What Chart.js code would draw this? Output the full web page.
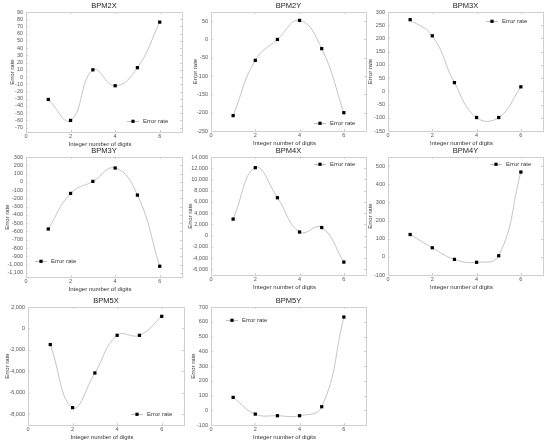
<!DOCTYPE html>
<html><head><meta charset="utf-8">
<script src="https://cdn.jsdelivr.net/npm/chart.js@4/dist/chart.umd.min.js"></script>
<style>
html,body{margin:0;padding:0;background:#fff;width:550px;height:446px;overflow:hidden;position:relative}
canvas{position:absolute}
</style></head><body>
<script>
// ---- data ----
const digits = [1, 2, 3, 4, 5, 6];
const xTickValues = [0, 2, 4, 6];
const titles = ['BPM2X', 'BPM2Y', 'BPM3X', 'BPM3Y', 'BPM4X', 'BPM4Y', 'BPM5X', 'BPM5Y'];
const bpm2x = [-31, -60, 10, -12, 13, 76];
const bpm2y = [-208, -57, 0, 52, -25, -200];
const bpm3x = [271, 210, 33, -99, -99, 17];
const bpm3y = [-570, -140, 5, 167, -160, -1020];
const bpm4x = [2950, 12100, 6750, 650, 1450, -4700];
const bpm4y = [123, 50, -14, -30, 6, 467];
const bpm5x = [-1500, -7380, -4150, -640, -640, 1130];
const bpm5y = [87, -26, -37, -37, 24, 632];
const seriesValues = [bpm2x, bpm2y, bpm3x, bpm3y, bpm4x, bpm4y, bpm5x, bpm5y];
const yMins = [-76, -250, -150, -1150, -7000, -100, -9000, -100];
const yMaxs = [90, 75, 300, 300, 14000, 550, 2000, 700];
const ySteps = [10, 50, 50, 100, 2000, 100, 2000, 100];
const seriesLabel = 'Error rate';
const xAxisTitle = 'Integer number of digits';
const yAxisTitle = 'Error rate';

// ---- layout (page pixel positions of plot areas, legend offsets) ----
const layouts = [
  {L: 26,  T: 12,  R: 182, B: 132, lx: 107, ly: 109, yt: 14},
  {L: 211, T: 12,  R: 366, B: 131, lx: 109, ly: 111, yt: 16},
  {L: 388, T: 12,  R: 543, B: 131, lx: 104, ly: 9,   yt: 18},
  {L: 26,  T: 157, R: 182, B: 277, lx: 15,  ly: 104, yt: 19},
  {L: 211, T: 157, R: 366, B: 275, lx: 109, ly: 7,   yt: 21},
  {L: 388, T: 157, R: 543, B: 275, lx: 108, ly: 7,   yt: 18},
  {L: 28,  T: 307, R: 184, B: 425, lx: 109, ly: 107, yt: 21},
  {L: 211, T: 307, R: 366, B: 425, lx: 21,  ly: 13,  yt: 18}
];
const FONT = "'Liberation Sans', Arial, sans-serif";
const AXW = 30, PADT = 12, PADR = 6, AXH = 18;

const decor = {
  id: 'decor',
  beforeDatasetsDraw(chart, args, o) {
    const {ctx, chartArea: a} = chart;
    ctx.save();
    ctx.strokeStyle = '#cfcfcf';
    ctx.lineWidth = 1;
    ctx.strokeRect(Math.round(a.left) + 0.5, Math.round(a.top) + 0.5, Math.round(a.right - a.left), Math.round(a.bottom - a.top));
    const ys = chart.scales.y, xs = chart.scales.x;
    ctx.beginPath();
    ys.ticks.forEach(t => {
      const p = Math.round(ys.getPixelForValue(t.value)) + 0.5;
      ctx.moveTo(a.left, p); ctx.lineTo(a.left + 2, p);
      ctx.moveTo(a.right, p); ctx.lineTo(a.right - 2, p);
    });
    xs.ticks.forEach(t => {
      const p = Math.round(xs.getPixelForValue(t.value)) + 0.5;
      ctx.moveTo(p, a.bottom); ctx.lineTo(p, a.bottom - 2);
      ctx.moveTo(p, a.top); ctx.lineTo(p, a.top + 2);
    });
    ctx.stroke();
    ctx.restore();
  },
  afterDraw(chart, args, o) {
    const {ctx, chartArea: a} = chart;
    const cx = (a.left + a.right) / 2;
    ctx.save();
    ctx.fillStyle = '#222';
    ctx.font = '7.5px ' + FONT;
    ctx.textAlign = 'center';
    ctx.textBaseline = 'middle';
    ctx.fillText(o.title, cx, a.top - 6);
    ctx.fillStyle = '#333';
    ctx.font = '6px ' + FONT;
    ctx.fillText(xAxisTitle, cx - 4, a.bottom + 12);
    ctx.save();
    ctx.translate(a.left - o.yt, (a.top + a.bottom) / 2);
    ctx.rotate(-Math.PI / 2);
    ctx.fillText(yAxisTitle, 0, 0);
    ctx.restore();
    const mx = a.left + o.lx, my = a.top + o.ly;
    ctx.strokeStyle = '#bdbdbd';
    ctx.lineWidth = 1;
    ctx.beginPath();
    ctx.moveTo(mx - 6, my + 0.5); ctx.lineTo(mx + 6, my + 0.5);
    ctx.stroke();
    ctx.fillStyle = '#000';
    ctx.fillRect(mx - 1.6, my - 1.3, 3.2, 3.2);
    ctx.fillStyle = '#333';
    ctx.textAlign = 'left';
    ctx.font = '6px ' + FONT;
    ctx.fillText(seriesLabel, mx + 10, my + 0.5);
    ctx.restore();
  }
};

titles.forEach((title, i) => {
  const lay = layouts[i];
  const cl = lay.L - AXW, ct = lay.T - PADT;
  const w = lay.R + PADR - cl, h = lay.B + AXH - ct;
  const cv = document.createElement('canvas');
  cv.width = w; cv.height = h;
  cv.style.left = cl + 'px'; cv.style.top = ct + 'px';
  cv.style.width = w + 'px'; cv.style.height = h + 'px';
  document.body.appendChild(cv);
  const step = ySteps[i], lo = yMins[i], hi = yMaxs[i];
  new Chart(cv, {
    type: 'line',
    data: {
      datasets: [{
        label: seriesLabel,
        data: digits.map((d, k) => ({x: d, y: seriesValues[i][k]})),
        borderColor: '#c4c4c4',
        borderWidth: 1,
        tension: 0.45,
        pointStyle: 'rect',
        pointRadius: 2.3,
        pointBackgroundColor: '#000',
        pointBorderColor: '#000',
        pointBorderWidth: 0,
        fill: false
      }]
    },
    options: {
      responsive: false,
      animation: false,
      layout: {padding: {top: PADT, right: PADR, left: 0, bottom: 0}},
      plugins: {
        legend: {display: false},
        tooltip: {enabled: false},
        decor: {title: title, lx: lay.lx, ly: lay.ly, yt: lay.yt}
      },
      scales: {
        x: {
          type: 'linear', min: 0, max: 7,
          grid: {display: false, drawTicks: false}, border: {display: false},
          ticks: {stepSize: 1, padding: 1, color: '#555', font: {size: 5.5, family: FONT}, maxRotation: 0, autoSkip: false},
          afterBuildTicks: s => { s.ticks = xTickValues.map(v => ({value: v})); },
          afterFit: s => { s.height = AXH; }
        },
        y: {
          type: 'linear', min: lo, max: hi,
          grid: {display: false, drawTicks: false}, border: {display: false},
          ticks: {
            stepSize: step, maxTicksLimit: 100, padding: 3, color: '#555', font: {size: 5.5, family: FONT}, autoSkip: false,
            callback: v => Number(v).toLocaleString('en-US')
          },
          afterBuildTicks: s => {
            const t = [];
            for (let k = Math.ceil(lo / step); k * step <= hi + 1e-9; k++) t.push({value: k * step});
            s.ticks = t;
          },
          afterFit: s => { s.width = AXW; }
        }
      }
    },
    plugins: [decor]
  });
});
</script>
</body></html>
